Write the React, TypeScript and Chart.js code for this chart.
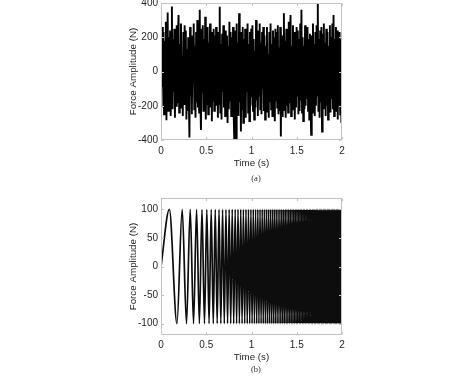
import React, { useEffect, useRef } from "react";
import { Chart, registerables } from "chart.js";

Chart.register(...registerables);

// ---------- data ----------
const timeTicks = [0, 0.5, 1, 1.5, 2];
const noiseTicks = [-400, -200, 0, 200, 400];
const chirpTicks = [-100, -50, 0, 50, 100];
const timeLabel = "Time (s)";
const forceLabel = "Force Amplitude (N)";
const captionA = "(a)";
const captionB = "(b)";

// (a) random force signal, samples evenly spaced over 0..2 s
const noiseDuration = 2;
const noiseForce = [
  120, -210, 260, -90, 230, -250, 180, -140, 290, -285,
  150, 345, -230, 200, -170, 240, -260, 110, 380, -220,
  190, -120, 250, -270, 60, -200, 270, -180, 220, 330,
  -240, 160, -210, 280, -150, 90, -260, 230, -190, 270,
  -100, 240, -280, 130, -230, 200, -170, -386, 260, -140,
  210, -250, 170, -60, 280, -220, 150, -270, 230, -180,
  300, -210, 140, -240, 360, -160, -342, 250, -120, 270,
  -230, 190, -200, 320, -280, 80, -190, 260, -250, 170,
  -130, 280, -210, 230, -290, 120, -170, 250, -230, 210,
  -150, 260, -200, 90, -270, 230, -190, 378, -240, 160,
  -280, 220, -120, 270, -210, 180, -260, 240, -90, 210,
  -300, 150, -220, 290, -170, 230, -260, 200, -140, 260,
  -250, -392, 240, -190, -400, 280, -230, 170, -260, 340,
  -180, 230, -350, 140, -220, 260, -300, 190, -160, 250,
  -270, 210, -120, 280, -240, 160, -290, 230, -200, 250,
  -150, 270, -230, 190, -280, 120, -210, 300, -170, 240,
  -260, 200, -140, 280, -220, 170, -250, 230, -100, 260,
  -230, 210, -280, 150, -190, 260, -240, 100, -270, 230,
  -180, 280, -220, 160, -260, 240, -140, 200, -290, 250,
  -170, 230, -210, 270, -250, 140, -230, 260, -380, 190,
  -260, 210, -150, 340, -230, 180, -270, 250, -200, 130,
  -240, 290, -180, 220, 330, -260, 150, -220, 270, -190,
  230, -280, 170, -210, 260, -140, 240, -250, 190, -230,
  280, -170, 360, -240, 200, -290, 150, -220, 270, -200,
  240, -160, 260, -230, 190, -280, 220, -150, -370, 210,
  -240, 280, -190, 160, -260, 230, -200, 270, -140, 400,
  -230, 190, -270, 240, -180, 260, -350, 220, -150, 280,
  -220, 170, -260, 250, -200, 230, -280, 150, -190, 270,
  -240, 200, -160, 280, -220, 330, -260, 190, -230, 260,
  -170, 240, -280, 210, -200, 230, -250, 190, -300, 220,
];

// (b) swept-sine force: times of each peak / trough
const chirpTimes = [
  0,
  0.0923, 0.1761, 0.2343, 0.2817, 0.3228, 0.3595, 0.393, 0.424, 0.453, 0.4804,
  0.5064, 0.5311, 0.5548, 0.5776, 0.5996, 0.6208, 0.6413, 0.6612, 0.6806, 0.6994,
  0.7178, 0.7357, 0.7533, 0.7704, 0.7872, 0.8036, 0.8197, 0.8355, 0.8511, 0.8663,
  0.8813, 0.8961, 0.9106, 0.9249, 0.939, 0.9529, 0.9666, 0.9801, 0.9934, 1.0066,
  1.0196, 1.0324, 1.0451, 1.0576, 1.07, 1.0822, 1.0944, 1.1063, 1.1182, 1.1299,
  1.1416, 1.1531, 1.1645, 1.1757, 1.1869, 1.198, 1.209, 1.2199, 1.2307, 1.2414,
  1.252, 1.2625, 1.273, 1.2833, 1.2936, 1.3038, 1.3139, 1.3239, 1.3339, 1.3438,
  1.3536, 1.3633, 1.373, 1.3827, 1.3922, 1.4017, 1.4111, 1.4205, 1.4298, 1.4391,
  1.4482, 1.4574, 1.4665, 1.4755, 1.4844, 1.4934, 1.5022, 1.511, 1.5198, 1.5285,
  1.5372, 1.5458, 1.5544, 1.5629, 1.5714, 1.5798, 1.5881, 1.5965, 1.6048, 1.6131,
  1.6213, 1.6295, 1.6376, 1.6457, 1.6538, 1.6618, 1.6698, 1.6777, 1.6856, 1.6935,
  1.7013, 1.7091, 1.7169, 1.7246, 1.7323, 1.74, 1.7476, 1.7552, 1.7628, 1.7703,
  1.7778, 1.7853, 1.7927, 1.8002, 1.8075, 1.8149, 1.8222, 1.8295, 1.8368, 1.844,
  1.8512, 1.8584, 1.8655, 1.8727, 1.8798, 1.8868, 1.8939, 1.9009, 1.9079, 1.9149,
  1.9218, 1.9288, 1.9356, 1.9425, 1.9494, 1.9562, 1.963, 1.9698, 1.9766, 1.9833,
  1.99, 1.9967,
  2,
];
const chirpForce = [
  0,
  100, -100, 100, -100, 100, -100, 100, -100, 100, -100,
  100, -100, 100, -100, 100, -100, 100, -100, 100, -100,
  100, -100, 100, -100, 100, -100, 100, -100, 100, -100,
  100, -100, 100, -100, 100, -100, 100, -100, 100, -100,
  100, -100, 100, -100, 100, -100, 100, -100, 100, -100,
  100, -100, 100, -100, 100, -100, 100, -100, 100, -100,
  100, -100, 100, -100, 100, -100, 100, -100, 100, -100,
  100, -100, 100, -100, 100, -100, 100, -100, 100, -100,
  100, -100, 100, -100, 100, -100, 100, -100, 100, -100,
  100, -100, 100, -100, 100, -100, 100, -100, 100, -100,
  100, -100, 100, -100, 100, -100, 100, -100, 100, -100,
  100, -100, 100, -100, 100, -100, 100, -100, 100, -100,
  100, -100, 100, -100, 100, -100, 100, -100, 100, -100,
  100, -100, 100, -100, 100, -100, 100, -100, 100, -100,
  100, -100, 100, -100, 100, -100, 100, -100, 100, -100,
  100, -100,
  0,
];

// ---------- styling ----------
const FONT = "'Liberation Sans', Arial, Helvetica, sans-serif";
const AXIS_GRAY = "#c2c2c2";
const TEXT = "#1f1f1f";

const boxPlugin = {
  id: "matlabBox",
  afterDatasetsDraw(chart: any) {
    const { ctx, chartArea: a, scales } = chart;
    ctx.save();
    ctx.strokeStyle = AXIS_GRAY;
    ctx.lineWidth = 1;
    const L = Math.round(a.left) + 0.5;
    const R = Math.round(a.right) - 0.5;
    const T = Math.round(a.top) + 0.5;
    const B = Math.round(a.bottom) - 0.5;
    ctx.strokeRect(L, T, R - L, B - T);
    const len = 2.5;
    ctx.beginPath();
    scales.x.ticks.forEach((t: any) => {
      const x = Math.round(scales.x.getPixelForValue(t.value)) + 0.5;
      ctx.moveTo(x, B);
      ctx.lineTo(x, B - len);
      ctx.moveTo(x, T);
      ctx.lineTo(x, T + len);
    });
    scales.y.ticks.forEach((t: any) => {
      const y = Math.round(scales.y.getPixelForValue(t.value)) + 0.5;
      ctx.moveTo(L, y);
      ctx.lineTo(L + len, y);
      ctx.moveTo(R, y);
      ctx.lineTo(R - len, y);
    });
    ctx.stroke();
    ctx.restore();
  },
};

type PanelProps = {
  top: number;
  height: number;
  padTop: number;
  axisH: number;
  tickPad: number;
  titlePad: number;
  yMin: number;
  yMax: number;
  yTicks: number[];
  points: { x: number; y: number }[];
  lineWidth: number;
  lineColor: string;
  smooth: boolean;
};

function ForcePanel(p: PanelProps) {
  const ref = useRef<HTMLCanvasElement>(null);
  useEffect(() => {
    const chart = new Chart(ref.current as HTMLCanvasElement, {
      type: "line",
      data: {
        datasets: [
          {
            data: p.points,
            borderColor: p.lineColor,
            borderWidth: p.lineWidth,
            pointRadius: 0,
            fill: false,
            tension: p.smooth ? 0.4 : 0,
            cubicInterpolationMode: p.smooth ? "monotone" : "default",
          } as any,
        ],
      },
      options: {
        animation: false,
        responsive: false,
        events: [],
        plugins: { legend: { display: false }, tooltip: { enabled: false } },
        layout: { padding: { left: 111, right: 132, top: p.padTop, bottom: 0 } },
        scales: {
          x: {
            type: "linear",
            min: 0,
            max: 2,
            grid: { display: false, drawTicks: false },
            border: { display: false },
            afterBuildTicks: (s: any) => {
              s.ticks = timeTicks.map((v) => ({ value: v }));
            },
            afterFit: (s: any) => {
              s.height = p.axisH;
              s.paddingLeft = 0;
              s.paddingRight = 0;
            },
            ticks: {
              padding: p.tickPad,
              maxRotation: 0,
              autoSkip: false,
              color: TEXT,
              font: { family: FONT, size: 10 },
              callback: (v: any) => String(v),
            },
            title: {
              display: true,
              text: timeLabel,
              color: TEXT,
              font: { family: FONT, size: 9.8 },
              padding: { top: 0, bottom: p.titlePad },
            },
          },
          y: {
            type: "linear",
            min: p.yMin,
            max: p.yMax,
            grid: { display: false, drawTicks: false },
            border: { display: false },
            afterBuildTicks: (s: any) => {
              s.ticks = p.yTicks.map((v) => ({ value: v }));
            },
            afterFit: (s: any) => {
              s.width = 50;
              s.paddingTop = 0;
              s.paddingBottom = 0;
            },
            ticks: {
              padding: 3,
              autoSkip: false,
              color: TEXT,
              font: { family: FONT, size: 10 },
              callback: (v: any) => String(v),
            },
            title: {
              display: true,
              text: forceLabel,
              color: TEXT,
              font: { family: FONT, size: 9.8 },
              padding: { top: 16.2, bottom: 0 },
            },
          },
        },
      } as any,
      plugins: [boxPlugin],
    });
    return () => chart.destroy();
  }, []);
  return (
    <canvas
      ref={ref}
      width={474}
      height={p.height}
      style={{ position: "absolute", left: 0, top: p.top, display: "block" }}
    />
  );
}

const captionStyle = (cy: number): React.CSSProperties => ({
  position: "absolute",
  left: 226,
  width: 60,
  top: cy - 6,
  height: 12,
  lineHeight: "12px",
  textAlign: "center",
  fontFamily: "'Liberation Serif', 'DejaVu Serif', serif",
  fontSize: 8.5,
  color: "#333",
});

export default function App() {
  const noisePoints = noiseForce.map((y, i) => ({
    x: (i * noiseDuration) / (noiseForce.length - 1),
    y,
  }));
  const chirpPoints = chirpTimes.map((x, i) => ({ x, y: chirpForce[i] }));
  return (
    <div
      style={{
        position: "absolute",
        left: 0,
        top: 0,
        width: 474,
        height: 381,
        background: "#fff",
        overflow: "hidden",
      }}
    >
      <ForcePanel
        top={0}
        height={190}
        padTop={3}
        axisH={50}
        tickPad={5}
        titlePad={21}
        yMin={-400}
        yMax={400}
        yTicks={noiseTicks}
        points={noisePoints}
        lineWidth={1.9}
        lineColor="#000"
        smooth={false}
      />
      <div style={captionStyle(178)}>{captionA}</div>
      <ForcePanel
        top={190}
        height={191}
        padTop={8}
        axisH={46}
        tickPad={4.5}
        titlePad={17.6}
        yMin={-120}
        yMax={120}
        yTicks={chirpTicks}
        points={chirpPoints}
        lineWidth={1.7}
        lineColor="#0d0d0d"
        smooth={true}
      />
      <div style={captionStyle(369)}>{captionB}</div>
    </div>
  );
}
